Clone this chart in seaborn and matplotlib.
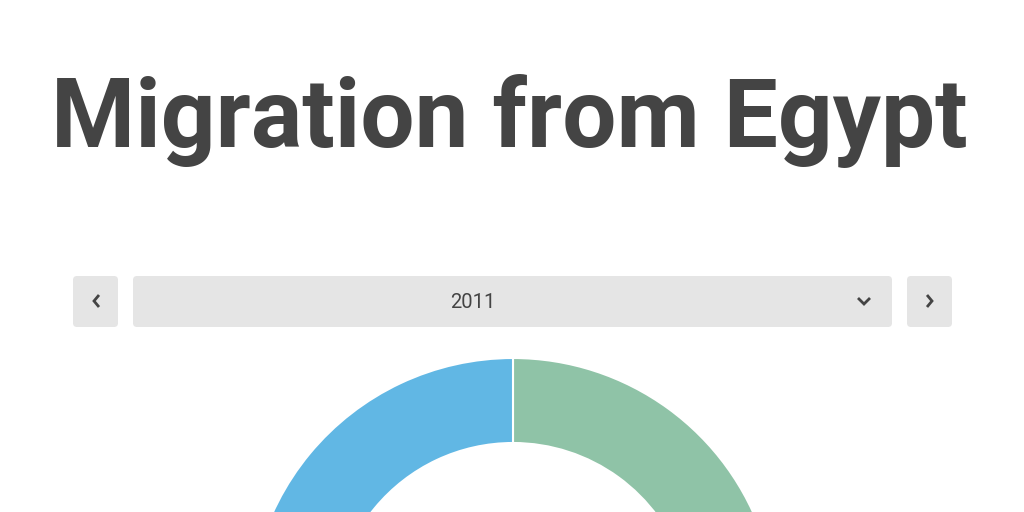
import matplotlib.pyplot as plt
import seaborn as sns
from matplotlib.patches import FancyBboxPatch

# Data (only the top of the donut is visible in the reference)
destinations = ['Saudi Arabia', 'Other', 'Jordan']
shares = [40, 32, 28]
slice_colors = ['#8fc3a7', '#f0b35f', '#61b7e4']

title = 'Migration from Egypt'
year_label = '2011'

sns.set_theme(style="white")
plt.rcParams['font.family'] = ['Roboto', 'DejaVu Sans']

W, H = 1024, 512
fig = plt.figure(figsize=(W / 100, H / 100), dpi=100)
ax = fig.add_axes([0, 0, 1, 1])

# Donut, centre below the picture so only its top shows
cx, cy, R, ring = 513, H - 622, 264, 85
ax.pie(shares, colors=slice_colors, center=(cx, cy), radius=R,
       startangle=90, counterclock=False, frame=True,
       wedgeprops=dict(width=ring, edgecolor='white', linewidth=1.5))

# Selector bar with arrows
bar_col = '#e5e5e5'
for x0, x1 in [(73, 118), (133, 892), (907, 952)]:
    ax.add_patch(FancyBboxPatch((x0 + 4, H - 327 + 4), x1 - x0 - 8, 51 - 8,
                                boxstyle='round,pad=4', fc=bar_col, ec='none'))

ax.text(473, H - 302, year_label, ha='center', va='center',
        fontsize=14.5, color='#444444')

arrow_kw = dict(color='#444444', lw=2, solid_capstyle='butt', solid_joinstyle='miter')
ax.plot([99, 94, 99], [H - 295, H - 301, H - 307], **arrow_kw)
ax.plot([927, 932, 927], [H - 295, H - 301, H - 307], **arrow_kw)
ax.plot([858, 864, 870], [H - 298, H - 304, H - 298], **arrow_kw)

ax.text(509, H - 121, title, ha='center', va='center',
        fontsize=69.2, fontweight='bold', color='#444444')

ax.set_xlim(0, W)
ax.set_ylim(0, H)
ax.set_aspect('equal')
ax.axis('off')

fig.savefig('out.png', dpi=100)
